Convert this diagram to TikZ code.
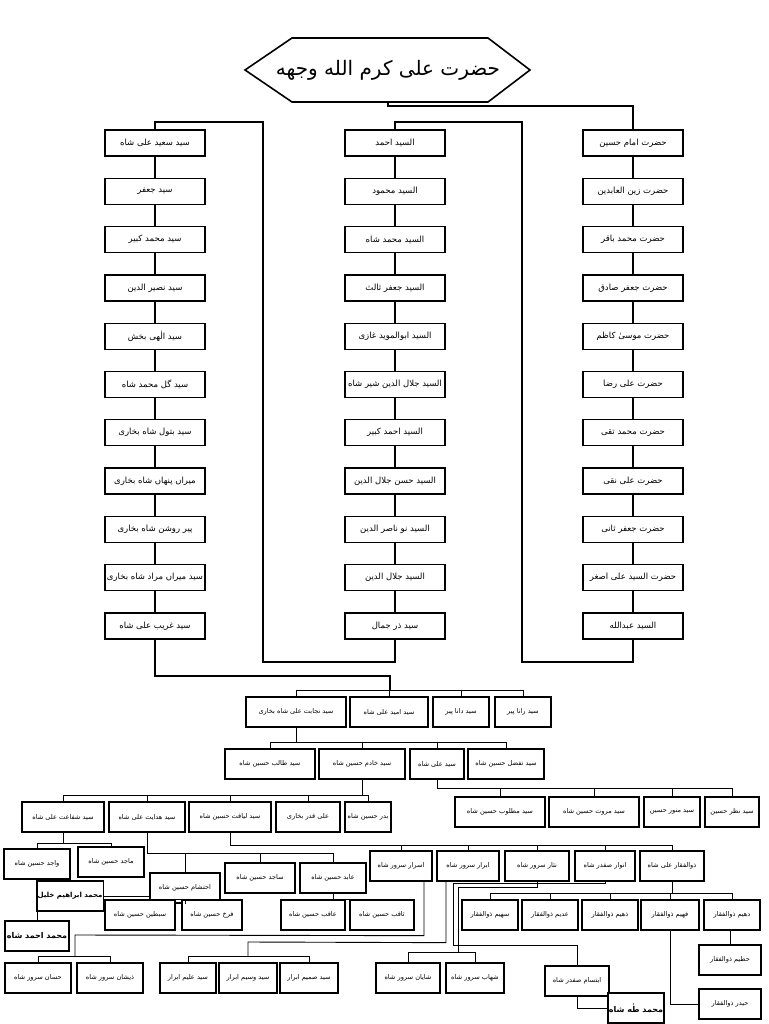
\documentclass[tikz,border=0pt]{standalone}
\usepackage{fontspec}
\newfontfamily\arabicfont[Script=Arabic]{DejaVu Sans}
\TeXXeTstate=1
\newcommand{\ur}[1]{{\arabicfont\beginR #1\endR}}
\begin{document}
\begin{tikzpicture}[x=1pt,y=-1pt,
  col/.style={draw,line width=1.3pt,minimum height=26pt,minimum width=100pt,inner sep=1pt,font=\fontsize{8.5}{9}\selectfont,fill=white},
  bx/.style={draw,line width=1.3pt,minimum height=30pt,inner xsep=1pt,inner ysep=1pt,font=\fontsize{6.6}{7}\selectfont,fill=white},
  ln/.style={line width=1.5pt},
  tn/.style={line width=0.9pt}]
\useasboundingbox (0,0) rectangle (768,1024);
% title
\draw[line width=1.6pt] (245,70)--(292,38)--(488,38)--(530,70)--(488,102)--(292,102)--cycle;
\node (top) at (388,70) {\fontsize{20}{22}\selectfont\ur{حضرت علی کرم الله وجهه}};
\coordinate (hexb) at (388,102);
% columns
\foreach \t [count=\i from 0] in {حضرت امام حسین,حضرت زین العابدین,حضرت محمد باقر,حضرت جعفر صادق,حضرت موسیٰ کاظم,حضرت علی رضا,حضرت محمد تقی,حضرت علی نقی,حضرت جعفر ثانی,حضرت السید علی اصغر,السید عبدالله}
  \node[col] (r\i) at (633,143+48.3*\i) {\ur{\t}};
\foreach \t [count=\i from 0] in {السید احمد,السید محمود,السید محمد شاه,السید جعفر ثالث,السید ابوالموید غازی,السید جلال الدین شیر شاه,السید احمد کبیر,السید حسن جلال الدین,السید نو ناصر الدین,السید جلال الدین,سید ذر جمال}
  \node[col] (m\i) at (395,143+48.3*\i) {\ur{\t}};
\foreach \t [count=\i from 0] in {سید سعید علی شاه,سید جعفر,سید محمد کبیر,سید نصیر الدین,سید الٰهی بخش,سید گل محمد شاه,سید بتول شاه بخاری,میراں پنهاں شاه بخاری,پیر روشن شاه بخاری,سید میراں مراد شاه بخاری,سید غریب علی شاه}
  \node[col] (l\i) at (155,143+48.3*\i) {\ur{\t}};
\foreach \a/\b in {0/1,1/2,2/3,3/4,4/5,5/6,6/7,7/8,8/9,9/10}{
  \draw[ln] (r\a)--(r\b); \draw[ln] (m\a)--(m\b); \draw[ln] (l\a)--(l\b);}
\draw[ln] (hexb)--(388,106)-|(r0.north);
\draw[ln] (r10.south)--(633,662)--(522,662)--(522,122)-|(m0.north);
\draw[ln] (m10.south)--(395,662)--(263,662)--(263,122)-|(l0.north);
\draw[ln] (l10.south)--(155,676)--(390,676)--(390,690);
% row 1
\node[bx,minimum width=100pt] (nij) at (296,712) {\ur{سید نجابت علی شاه بخاری}};
\node[bx,minimum width=78pt] (ume) at (389,712) {\ur{سید امید علی شاه}};
\node[bx,minimum width=56pt] (dan) at (461,712) {\ur{سید دانا پیر}};
\node[bx,minimum width=56pt] (ran) at (523,712) {\ur{سید رانا پیر}};
\coordinate (b1) at (0,690);
\draw[tn] (nij.north)--(nij.north|-b1)--(ran.north|-b1)--(ran.north);
\draw[tn] (ume.north)--(ume.north|-b1); \draw[tn] (dan.north)--(dan.north|-b1);
% row 2
\node[bx,minimum width=90pt] (tal) at (270,764) {\ur{سید طالب حسین شاه}};
\node[bx,minimum width=86pt] (kha) at (362,764) {\ur{سید خادم حسین شاه}};
\node[bx,minimum width=54pt] (ali) at (437,764) {\ur{سید علی شاه}};
\node[bx,minimum width=76pt] (taf) at (506,764) {\ur{سید تفضل حسین شاه}};
\coordinate (b2) at (0,742);
\draw[tn] (nij.south)--(nij.south|-b2);
\draw[tn] (tal.north)--(tal.north|-b2)--(taf.north|-b2)--(taf.north);
\draw[tn] (kha.north)--(kha.north|-b2); \draw[tn] (ali.north)--(ali.north|-b2);
% row 3 left
\node[bx,minimum width=82pt] (sha) at (63,817) {\ur{سید شفاعت علی شاه}};
\node[bx,minimum width=76pt] (hid) at (147,817) {\ur{سید هدایت علی شاه}};
\node[bx,minimum width=82pt] (lia) at (230,817) {\ur{سید لیاقت حسین شاه}};
\node[bx,minimum width=64pt] (aqd) at (308,817) {\ur{علی قدر بخاری}};
\node[bx,minimum width=46pt] (bad) at (368,817) {\ur{بدر حسین شاه}};
\coordinate (b3) at (0,795);
\draw[tn] (kha.south)--(kha.south|-b3);
\draw[tn] (sha.north)--(sha.north|-b3)--(bad.north|-b3)--(bad.north);
\foreach \n in {hid,lia,aqd} \draw[tn] (\n.north)--(\n.north|-b3);
% row 3 right
\node[bx,minimum width=90pt] (mat) at (500,812) {\ur{سید مطلوب حسین شاه}};
\node[bx,minimum width=90pt] (mur) at (594,812) {\ur{سید مروت حسین شاه}};
\node[bx,minimum width=56pt] (mun) at (672,812) {\ur{سید منور حسین}};
\node[bx,minimum width=54pt] (naz) at (732,812) {\ur{سید نظر حسین}};
\coordinate (b3r) at (0,788);
\draw[tn] (ali.south)--(ali.south|-b3r)--(naz.north|-b3r)--(naz.north);
\foreach \n in {mat,mur,mun} \draw[tn] (\n.north)--(\n.north|-b3r);
% row 4 (Liaqat's sons)
\node[bx,minimum width=62pt] (isr) at (401,866) {\ur{اسرار سرور شاه}};
\node[bx,minimum width=62pt] (abr) at (468,866) {\ur{ابرار سرور شاه}};
\node[bx,minimum width=64pt] (nis) at (537,866) {\ur{نثار سرور شاه}};
\node[bx,minimum width=60pt] (anw) at (605,866) {\ur{انوار صفدر شاه}};
\node[bx,minimum width=64pt] (zul) at (672,866) {\ur{ذوالفقار علی شاه}};
\coordinate (b4) at (0,845);
\draw[tn] (lia.south)--(lia.south|-b4)--(zul.north|-b4)--(zul.north);
\foreach \n in {isr,abr,nis,anw} \draw[tn] (\n.north)--(\n.north|-b4);
% Hidayat's sons
\node[bx,minimum width=70pt] (iht) at (185,888) {\ur{احتشام حسین شاه}};
\node[bx,minimum width=70pt] (saj) at (260,878) {\ur{ساجد حسین شاه}};
\node[bx,minimum width=66pt] (abi) at (333,878) {\ur{عابد حسین شاه}};
\coordinate (b5) at (0,853);
\draw[tn] (hid.south)--(hid.south|-b5)--(abi.north|-b5)--(abi.north);
\draw[tn] (iht.north)--(iht.north|-b5); \draw[tn] (saj.north)--(saj.north|-b5);
% Shafaat's sons
\node[bx,minimum width=66pt] (waj) at (37,864) {\ur{واجد حسین شاه}};
\node[bx,minimum width=66pt] (maj) at (111,862) {\ur{ماجد حسین شاه}};
\coordinate (b6) at (0,843);
\draw[tn] (sha.south)--(sha.south|-b6);
\draw[tn] (waj.north)--(waj.north|-b6)--(maj.north|-b6)--(maj.north);
\node[bx,minimum width=66pt,font=\fontsize{7}{8}\selectfont\bfseries] (kha2) at (70,896) {\ur{محمد ابراهیم خلیل}};
\draw[tn] (kha2.east)--(iht.west|-kha2.east);
\node[bx,minimum width=64pt,font=\fontsize{8}{9}\selectfont\bfseries] (ahm) at (37,936) {\ur{محمد احمد شاه}};
\draw[tn] (waj.south)--(ahm.north);
% Ihtisham's sons
\node[bx,minimum width=70pt] (sib) at (140,915) {\ur{سبطین حسین شاه}};
\node[bx,minimum width=60pt] (far) at (212,915) {\ur{فرخ حسین شاه}};
\coordinate (b7) at (0,899);
\draw[tn] (iht.south)--(iht.south|-b7);
\draw[tn] (sib.north)--(sib.north|-b7)--(far.north|-b7)--(far.north);
% Abid's sons
\node[bx,minimum width=64pt] (aqi) at (313,915) {\ur{عاقب حسین شاه}};
\node[bx,minimum width=64pt] (saq) at (382,915) {\ur{ثاقب حسین شاه}};
\draw[tn] (abi.south)--(abi.south|-b7);
\draw[tn] (aqi.north)--(aqi.north|-b7)--(saq.north|-b7)--(saq.north);
% Israr's sons
\node[bx,minimum width=66pt] (has) at (38,978) {\ur{حسان سرور شاه}};
\node[bx,minimum width=66pt] (zee) at (110,978) {\ur{ذیشان سرور شاه}};
\coordinate (b8) at (0,956);
\draw[tn] ([xshift=23pt]isr.south)--++(0,54)--(75,935)--(75,956);
\draw[tn] (has.north)--(has.north|-b8)--(zee.north|-b8)--(zee.north);
% Abrar's sons
\node[bx,minimum width=56pt] (sal) at (188,978) {\ur{سید علیم ابرار}};
\node[bx,minimum width=58pt] (was) at (248,978) {\ur{سید وسیم ابرار}};
\node[bx,minimum width=58pt] (sam) at (309,978) {\ur{سید صمیم ابرار}};
\draw[tn] ([xshift=-22pt]abr.south)--++(0,61)--(248,942)--(248,956);
\draw[tn] (sal.north)--(sal.north|-b8)--(sam.north|-b8)--(sam.north);
% Nisar's sons
\node[bx,minimum width=64pt] (shy) at (408,978) {\ur{شایان سرور شاه}};
\node[bx,minimum width=58pt] (shb) at (475,978) {\ur{شهاب سرور شاه}};
\coordinate (b10) at (0,952);
\draw[tn] (nis.south)--(537,887)--(458,887)--(458,952);
\draw[tn] (shy.north)--(shy.north|-b10)--(shb.north|-b10)--(shb.north);
% Anwar's son and grandson
\node[bx,minimum width=64pt] (ibt) at (577,981) {\ur{ابتسام صفدر شاه}};
\node[bx,minimum width=56pt,font=\fontsize{8}{9}\selectfont\bfseries] (tah) at (636,1008) {\ur{محمد طٰه شاه}};
\draw[tn] (anw.south)--(605,883)--(453,883)--(453,945)-|(ibt.north);
\draw[tn] (ibt.south)|-(tah.west);
% Zulfiqar's sons
\node[bx,minimum width=56pt] (sah) at (490,915) {\ur{سهیم ذوالفقار}};
\node[bx,minimum width=56pt] (ade) at (550,915) {\ur{عدیم ذوالفقار}};
\node[bx,minimum width=56pt] (zah) at (610,915) {\ur{ذهیم ذوالفقار}};
\node[bx,minimum width=58pt] (fah) at (670,915) {\ur{فهیم ذوالفقار}};
\node[bx,minimum width=56pt] (dah) at (732,915) {\ur{دهیم ذوالفقار}};
\coordinate (b9) at (0,893);
\draw[tn] (zul.south)--(zul.south|-b9);
\draw[tn] (sah.north)--(sah.north|-b9)--(dah.north|-b9)--(dah.north);
\foreach \n in {ade,zah,fah} \draw[tn] (\n.north)--(\n.north|-b9);
\node[bx,minimum width=62pt] (hat) at (730,960) {\ur{حطیم ذوالفقار}};
\draw[tn] (dah.south)--(hat.north|-dah.south)--(hat.north);
\node[bx,minimum width=62pt] (hai) at (730,1004) {\ur{حیدر ذوالفقار}};
\draw[tn] (fah.south)|-(hai.west);
\end{tikzpicture}
\end{document}
